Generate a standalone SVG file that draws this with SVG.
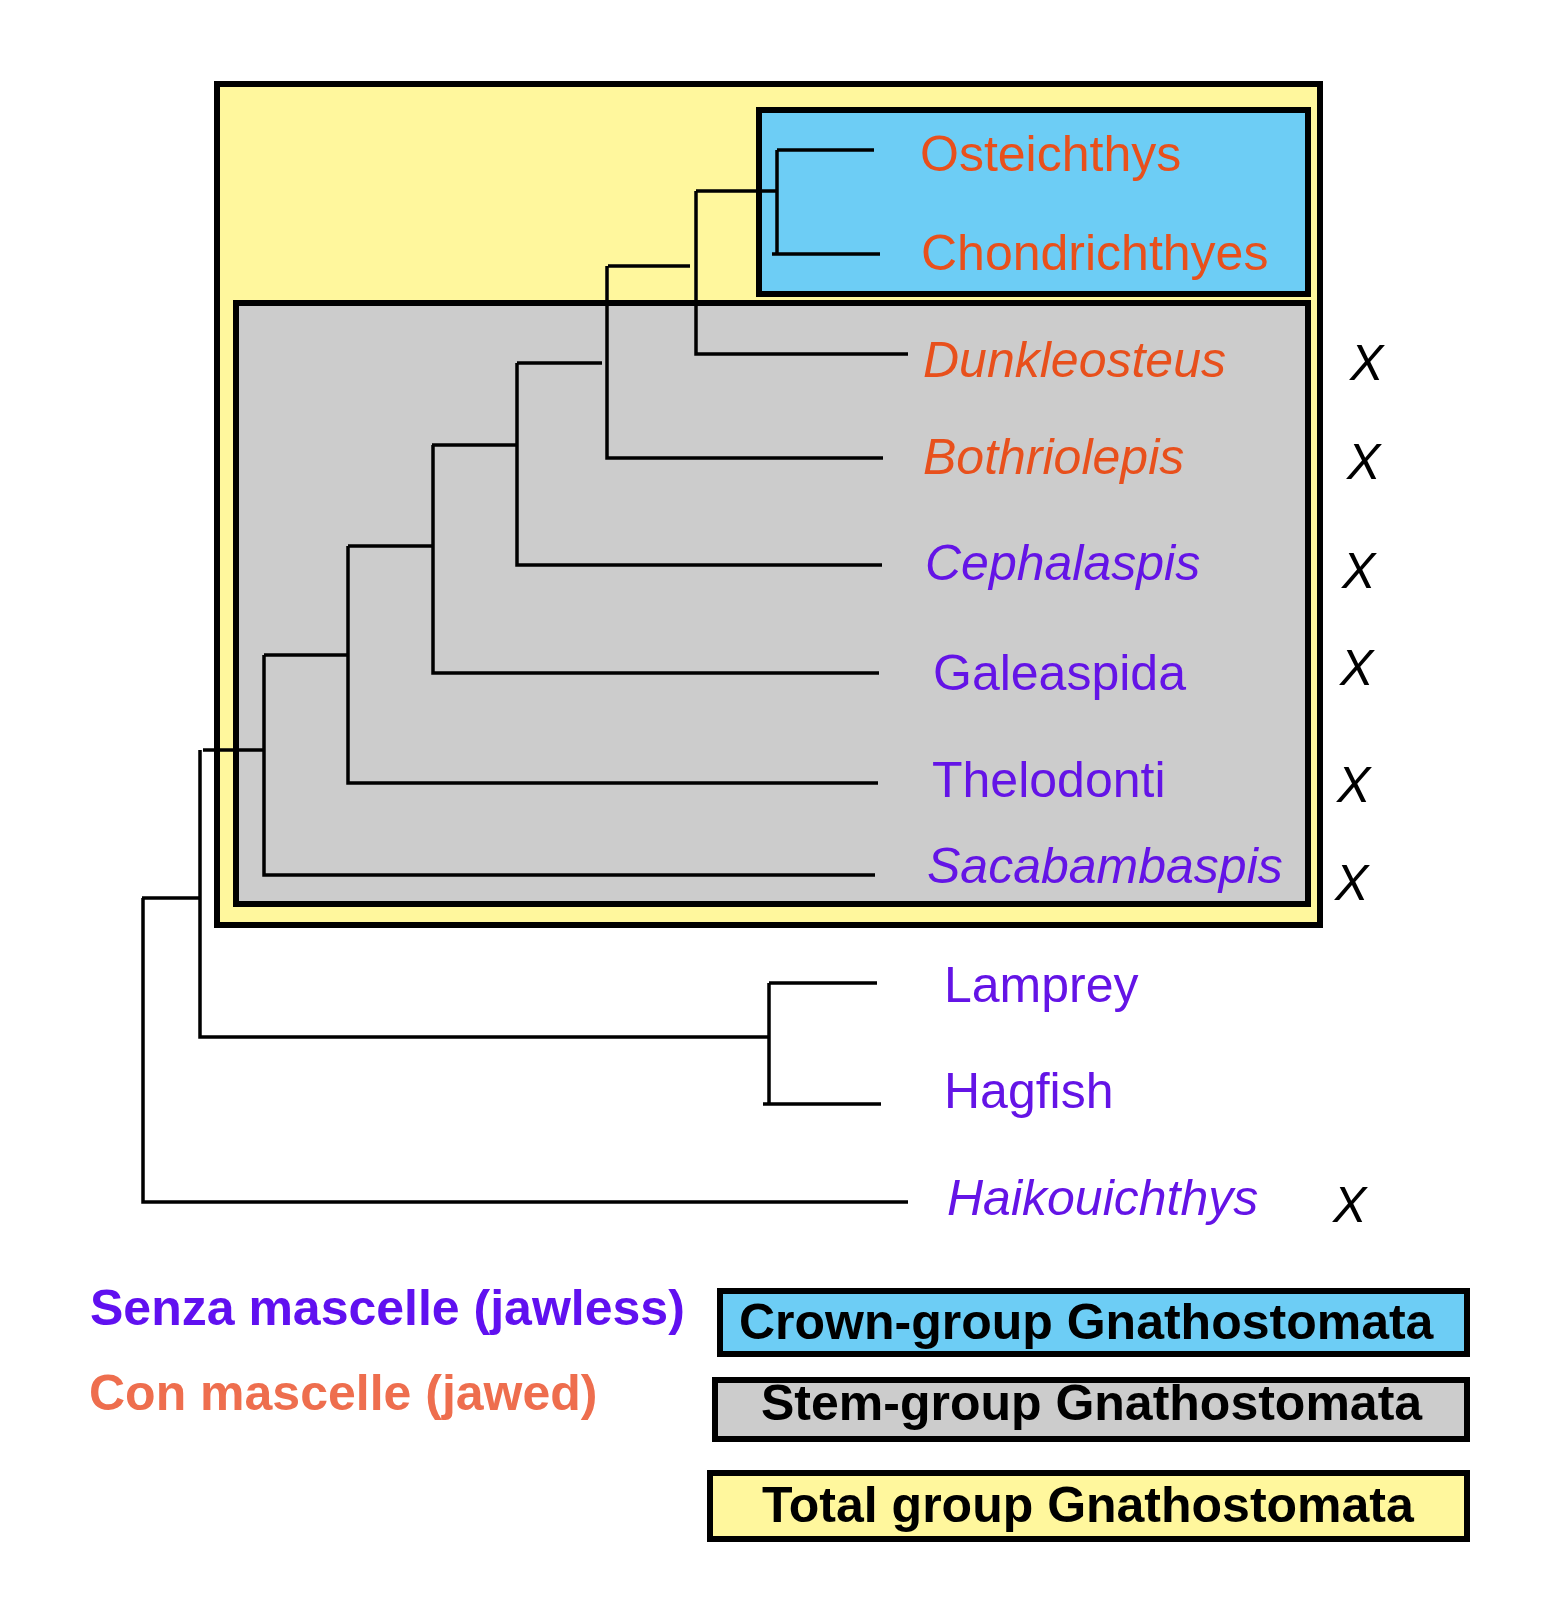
<svg xmlns="http://www.w3.org/2000/svg" width="1566" height="1600" viewBox="0 0 1566 1600">
<style>
.box{stroke:#000;stroke-width:6}
.yellow{fill:#FFF79D}
.blue{fill:#6DCDF5}
.gray{fill:#CCCCCC}
.br{fill:none;stroke:#000;stroke-width:3.5;stroke-linecap:butt}
.lab{font-family:"Liberation Sans",Arial,sans-serif;font-size:50px}
.it{font-style:italic}
.jawed{fill:#E8501C}
.jawless{fill:#6414E6}
.x{fill:#000;font-style:italic}
.leg{font-family:"Liberation Sans",Arial,sans-serif;font-size:50px;font-weight:bold}
</style>
<rect width="1566" height="1600" fill="#fff"/>
<g id="total-group">
<rect class="box yellow" x="217" y="84" width="1103" height="841"/>
</g>
<g id="crown-group">
<rect class="box blue" x="759" y="110" width="549" height="184"/>
</g>
<g id="stem-group">
<rect class="box gray" x="236" y="303" width="1072" height="601"/>
</g>
<g id="connectors">
<path class="br" d="M777 150V254M777 150H874M772 254H880M696 191H777"/>
<path class="br" d="M696 191V354H908M608 266H690"/>
<path class="br" d="M607 266V458H883M517 363H602"/>
<path class="br" d="M517 363V565H882M432 445H517"/>
<path class="br" d="M433 445V673H879M348 546H433"/>
<path class="br" d="M348 546V783H878M264 655H348"/>
<path class="br" d="M264 655V875H875M203 750H263"/>
<path class="br" d="M200 750V1037H769M142 898H200"/>
<path class="br" d="M769 983V1104M769 983H877M763 1104H881"/>
<path class="br" d="M143 898V1202H908"/>
</g>
<g id="osteichthys"><text class="lab jawed" x="920" y="171">Osteichthys</text></g>
<g id="chondrichthyes"><text class="lab jawed" x="921" y="270">Chondrichthyes</text></g>
<g id="dunkleosteus"><text class="lab it jawed" x="923" y="377">Dunkleosteus</text><text class="lab x" x="1350" y="380">X</text></g>
<g id="bothriolepis"><text class="lab it jawed" x="923" y="474">Bothriolepis</text><text class="lab x" x="1347" y="479">X</text></g>
<g id="cephalaspis"><text class="lab it jawless" x="925" y="580">Cephalaspis</text><text class="lab x" x="1342" y="588">X</text></g>
<g id="galeaspida"><text class="lab jawless" x="933" y="690">Galeaspida</text><text class="lab x" x="1340" y="685">X</text></g>
<g id="thelodonti"><text class="lab jawless" x="932" y="797">Thelodonti</text><text class="lab x" x="1337" y="802">X</text></g>
<g id="sacabambaspis"><text class="lab it jawless" x="927" y="883">Sacabambaspis</text><text class="lab x" x="1335" y="900">X</text></g>
<g id="lamprey"><text class="lab jawless" x="944" y="1002">Lamprey</text></g>
<g id="hagfish"><text class="lab jawless" x="944" y="1108">Hagfish</text></g>
<g id="haikouichthys"><text class="lab it jawless" x="947" y="1215">Haikouichthys</text><text class="lab x" x="1333" y="1222">X</text></g>
<g id="legend-jawless"><text class="leg" fill="#6010F0" x="90" y="1325">Senza mascelle (jawless)</text></g>
<g id="legend-jawed"><text class="leg" fill="#EE6E4E" x="89" y="1410">Con mascelle (jawed)</text></g>
<g id="legend-crown"><rect class="box blue" x="720" y="1291" width="747" height="63"/><text class="leg" x="739" y="1339">Crown-group Gnathostomata</text></g>
<g id="legend-stem"><rect class="box gray" x="715" y="1380" width="752" height="59"/><text class="leg" x="761" y="1420">Stem-group Gnathostomata</text></g>
<g id="legend-total"><rect class="box yellow" x="710" y="1473" width="757" height="66"/><text class="leg" x="762" y="1522">Total group Gnathostomata</text></g>
</svg>
